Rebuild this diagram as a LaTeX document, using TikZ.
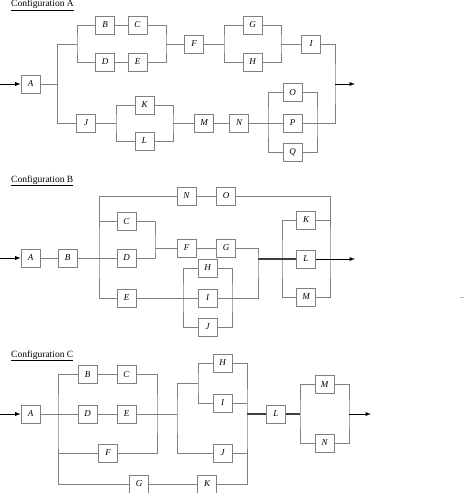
\documentclass[tikz,border=0pt]{standalone}
\usepackage{fontspec}
\setmainfont{Liberation Serif}
\usetikzlibrary{arrows}

\begin{document}
\begin{tikzpicture}[x=1pt,y=-1pt,
    blk/.style={draw=gray,fill=white,line width=0.8pt,minimum width=19pt,minimum height=18pt,inner sep=0pt,font=\fontsize{9}{10}\selectfont\itshape},
    wire/.style={draw=gray,line width=0.8pt},
    trunk/.style={draw=black!75,line width=1.3pt},
    feed/.style={draw=black,line width=0.9pt,-latex},
    heading/.style={anchor=base west,inner sep=0pt,font=\fontsize{9.5}{11}\selectfont}]
    \useasboundingbox (0,0) rectangle (464,493);

    \node[heading] (tA) at (11,6.5) {\underline{Configuration A}};
    \node[blk] (aA) at (30.5,84) {A};
    \node[blk] (aB) at (105,25) {B};
    \node[blk] (aC) at (137.5,25) {C};
    \node[blk] (aD) at (105,62) {D};
    \node[blk] (aE) at (137.5,62) {E};
    \node[blk] (aF) at (194,44) {F};
    \node[blk] (aG) at (252.5,25) {G};
    \node[blk] (aH) at (252.5,62) {H};
    \node[blk] (aI) at (311,44) {I};
    \node[blk] (aJ) at (86,123) {J};
    \node[blk] (aK) at (144.5,105) {K};
    \node[blk] (aL) at (144.5,141) {L};
    \node[blk] (aM) at (204,123) {M};
    \node[blk] (aN) at (239,123) {N};
    \node[blk] (aO) at (292.5,92.5) {O};
    \node[blk] (aP) at (292.5,123) {P};
    \node[blk] (aQ) at (292.5,152) {Q};
    \coordinate (aIn) at (0,84);
    \coordinate (aOut) at (355,84);
    \coordinate (aj1) at (57,44);
    \coordinate (aj2) at (57,123);
    \coordinate (aj3) at (77,44);
    \coordinate (aj4) at (166,44);
    \coordinate (aj5) at (224,44);
    \coordinate (aj6) at (281,44);
    \coordinate (aj7) at (335,84);
    \coordinate (aj8) at (116,123);
    \coordinate (aj9) at (173,123);
    \coordinate (aj10) at (268,123);
    \coordinate (aj11) at (317,123);

    \draw[wire] (aA) -- (aA -| aj1);
    \draw[wire] (aj1) -- (aj2);
    \draw[wire] (aj1) -- (aj3);
    \draw[wire] (aB) -| (aj3) |- (aD);
    \draw[wire] (aB) -- (aC);
    \draw[wire] (aD) -- (aE);
    \draw[wire] (aC) -| (aj4) |- (aE);
    \draw[wire] (aj4) -- (aF);
    \draw[wire] (aF) -- (aj5);
    \draw[wire] (aG) -| (aj5) |- (aH);
    \draw[wire] (aG) -| (aj6) |- (aH);
    \draw[wire] (aj6) -- (aI);
    \draw[wire] (aI) -| (aj7) |- (aP);
    \draw[wire] (aj2) -- (aJ);
    \draw[wire] (aJ) -- (aj8);
    \draw[wire] (aK) -| (aj8) |- (aL);
    \draw[wire] (aK) -| (aj9) |- (aL);
    \draw[wire] (aj9) -- (aM);
    \draw[wire] (aM) -- (aN);
    \draw[wire] (aN) -- (aP);
    \draw[wire] (aO) -| (aj10) |- (aQ);
    \draw[wire] (aO) -| (aj11) |- (aQ);
    \draw[feed] (aIn) -- (aA);
    \draw[feed] (aj7) -- (aOut);

    \node[heading] (tB) at (11,182) {\underline{Configuration B}};
    \node[blk] (bA) at (30.5,258) {A};
    \node[blk] (bB) at (67.5,258) {B};
    \node[blk] (bC) at (126.5,221.5) {C};
    \node[blk] (bD) at (126.5,258) {D};
    \node[blk] (bE) at (126.5,298) {E};
    \node[blk] (bF) at (186.5,248) {F};
    \node[blk] (bG) at (226,248) {G};
    \node[blk] (bH) at (207.5,268) {H};
    \node[blk] (bI) at (207.5,298) {I};
    \node[blk] (bJ) at (207.5,327) {J};
    \node[blk] (bK) at (306,220) {K};
    \node[blk] (bL) at (306,259) {L};
    \node[blk] (bM) at (306,297) {M};
    \node[blk] (bN) at (186.5,196) {N};
    \node[blk] (bO) at (226,196) {O};
    \coordinate (bIn) at (0,258);
    \coordinate (bOut) at (355,259);
    \coordinate (bj1) at (99,258);
    \coordinate (bj3) at (330,259);
    \coordinate (bj4) at (155,248);
    \coordinate (bj5) at (258,259);
    \coordinate (bj6) at (282,259);
    \coordinate (bj7) at (183,298);
    \coordinate (bj8) at (232,298);

    \draw[wire] (bA) -- (bB);
    \draw[wire] (bB) -- (bj1);
    \draw[wire] (bN) -| (bj1) |- (bE);
    \draw[wire] (bj1) -- (bD);
    \draw[wire] (bC) -- (bC -| bj1);
    \draw[wire] (bN) -- (bO);
    \draw[wire] (bO) -| (bj3) |- (bM);
    \draw[wire] (bK) -- (bK -| bj3);
    \draw[wire] (bC) -| (bj4) |- (bD);
    \draw[wire] (bj4) -- (bF);
    \draw[wire] (bF) -- (bG);
    \draw[wire] (bG) -| (bj5) |- (bI);
    \draw[wire] (bK) -| (bj6) |- (bM);
    \draw[wire] (bE) -- (bj7);
    \draw[wire] (bH) -| (bj7) |- (bJ);
    \draw[wire] (bj7) -- (bI);
    \draw[wire] (bH) -| (bj8) |- (bJ);
    \draw[trunk] (bj5) -- (bL);
    \draw[feed] (bIn) -- (bA);
    \draw[trunk,feed] (bL) -- (bOut);
    \draw[gray!50] (460,297) -- (464,297);

    \node[heading] (tC) at (11,357) {\underline{Configuration C}};
    \node[blk] (cA) at (30.5,414) {A};
    \node[blk] (cB) at (87.5,374.5) {B};
    \node[blk] (cC) at (126.5,374.5) {C};
    \node[blk] (cD) at (87.5,414) {D};
    \node[blk] (cE) at (126.5,414) {E};
    \node[blk] (cF) at (108,453) {F};
    \node[blk] (cG) at (139,484) {G};
    \node[blk] (cH) at (222.5,363) {H};
    \node[blk] (cI) at (222.5,403) {I};
    \node[blk] (cJ) at (222.5,453) {J};
    \node[blk] (cK) at (207,484) {K};
    \node[blk] (cL) at (276,414) {L};
    \node[blk] (cM) at (324.5,384.5) {M};
    \node[blk] (cN) at (324.5,443) {N};
    \coordinate (cIn) at (0,414);
    \coordinate (cOut) at (371,414);
    \coordinate (cj1) at (58,414);
    \coordinate (cj2) at (157,414);
    \coordinate (cj3) at (177,414);
    \coordinate (cj5) at (198,383);
    \coordinate (cj6) at (247,414);
    \coordinate (cj7) at (300,414);
    \coordinate (cj8) at (349,414);

    \draw[wire] (cA) -- (cj1);
    \draw[wire] (cB) -| (cj1) |- (cG);
    \draw[wire] (cj1) -- (cD);
    \draw[wire] (cF) -- (cF -| cj1);
    \draw[wire] (cB) -- (cC);
    \draw[wire] (cD) -- (cE);
    \draw[wire] (cC) -| (cj2) |- (cF);
    \draw[wire] (cE) -- (cj2);
    \draw[wire] (cj2) -- (cj3);
    \draw[wire] (cJ) -| (cj3) |- (cj5);
    \draw[wire] (cH) -| (cj5) |- (cI);
    \draw[wire] (cG) -- (cK);
    \draw[wire] (cH) -| (cj6) |- (cK);
    \draw[wire] (cI) -- (cI -| cj6);
    \draw[wire] (cJ) -- (cJ -| cj6);
    \draw[trunk] (cj6) -- (cL);
    \draw[trunk] (cL) -- (cj7);
    \draw[wire] (cM) -| (cj7) |- (cN);
    \draw[wire] (cM) -| (cj8) |- (cN);
    \draw[feed] (cIn) -- (cA);
    \draw[feed] (cj8) -- (cOut);
\end{tikzpicture}
\end{document}
